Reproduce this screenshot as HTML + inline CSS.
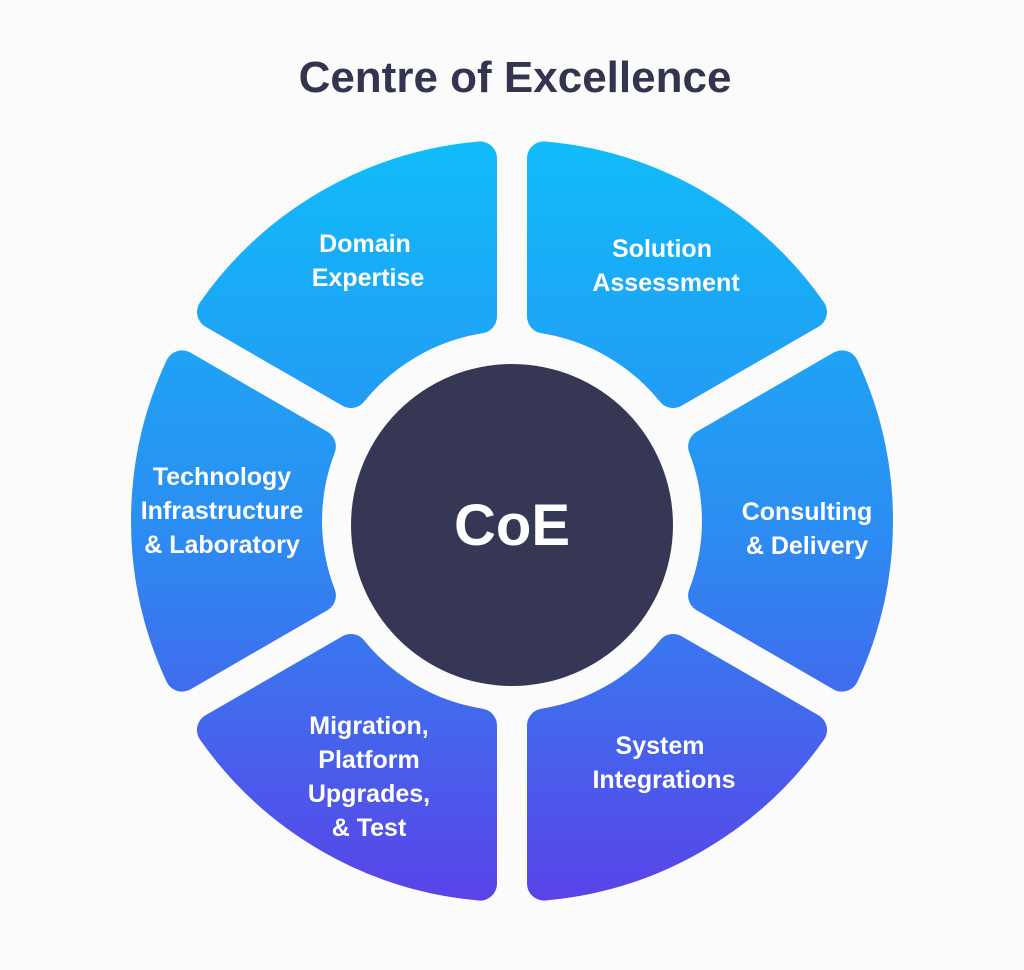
<!DOCTYPE html>
<html><head><meta charset="utf-8"><style>
html,body{margin:0;padding:0;background:#fbfbfc;}
body{width:1024px;height:965px;position:relative;overflow:hidden;font-family:"Liberation Sans",sans-serif;}
</style></head><body>
<svg id="s" width="1024" height="965" viewBox="0 0 1024 965" xmlns="http://www.w3.org/2000/svg">
<defs>
<linearGradient id="g" gradientUnits="userSpaceOnUse" x1="0" y1="140" x2="0" y2="905">
<stop offset="0" stop-color="#10bcf9"/>
<stop offset="0.5" stop-color="#2b8ef2"/>
<stop offset="1" stop-color="#5a42e8"/>
</linearGradient>
</defs>
<g id="segs" fill="url(#g)" stroke="url(#g)" stroke-width="34" stroke-linejoin="round"></g>
<circle cx="512" cy="525" r="161" fill="#363754"/>
<text x="515" y="92" text-anchor="middle" font-size="44" font-weight="bold" fill="#33354f">Centre of Excellence</text>
<text x="512" y="545" text-anchor="middle" font-size="58" font-weight="bold" fill="#fff">CoE</text>
<g font-size="25" font-weight="bold" fill="#fff" text-anchor="middle">
<text x="365" y="252">Domain</text><text x="368" y="286">Expertise</text>
<text x="662" y="257">Solution</text><text x="666" y="291">Assessment</text>
<text x="222" y="485">Technology</text><text x="222" y="519">Infrastructure</text><text x="222" y="553">&amp; Laboratory</text>
<text x="807" y="520">Consulting</text><text x="807" y="554">&amp; Delivery</text>
<text x="369" y="734">Migration,</text><text x="369" y="768">Platform</text><text x="369" y="802">Upgrades,</text><text x="369" y="836">&amp; Test</text>
<text x="660" y="754">System</text><text x="664" y="788">Integrations</text>
</g>
</svg>
<script>
(function(){
var cx=512,cy=521,R=364,r=207,d=32,g=document.getElementById('segs');
function P(rad,a){a=a*Math.PI/180;return (cx+rad*Math.cos(a)).toFixed(1)+' '+(cy-rad*Math.sin(a)).toFixed(1);}
var dO=Math.asin(d/R)*180/Math.PI,dI=Math.asin(d/r)*180/Math.PI;
[0,60,120,180,240,300].forEach(function(c){
var p=document.createElementNS('http://www.w3.org/2000/svg','path');
p.setAttribute('d','M'+P(R,c-30+dO)+' A'+R+' '+R+' 0 0 0 '+P(R,c+30-dO)+' L'+P(r,c+30-dI)+' A'+r+' '+r+' 0 0 1 '+P(r,c-30+dI)+' Z');
g.appendChild(p);});
})();
</script>
</body></html>
